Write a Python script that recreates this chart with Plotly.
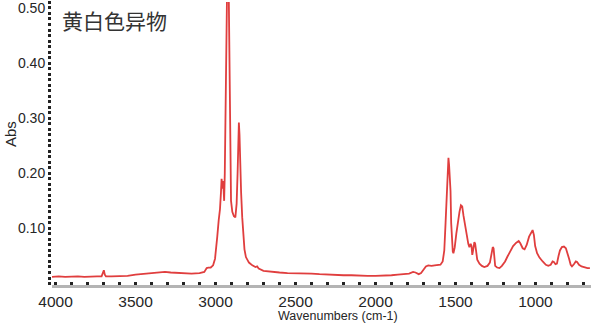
import plotly.graph_objects as go

# Wavenumbers (cm-1) and absorbance
wavenumbers = [
    4022, 3980, 3940, 3900, 3860, 3820, 3780, 3740, 3712, 3703, 3698, 3692, 3685,
    3650, 3600, 3550, 3500, 3450, 3400, 3350, 3316, 3280, 3240, 3200, 3150, 3100,
    3070, 3055, 3045, 3030, 3015, 3003, 2995, 2989, 2980, 2972, 2966, 2962, 2958,
    2955, 2952, 2949, 2946, 2942, 2937, 2932, 2928, 2924, 2920, 2915, 2910, 2907,
    2903, 2895, 2885, 2876, 2868, 2862, 2857, 2854, 2850, 2846, 2840, 2833, 2826,
    2819, 2810, 2800, 2791, 2770, 2750, 2740, 2730, 2700, 2650, 2600, 2550, 2500,
    2450, 2400, 2350, 2300, 2250, 2200, 2150, 2100, 2050, 2000, 1950, 1900, 1860,
    1820, 1790, 1765, 1750, 1730, 1715, 1700, 1685, 1670, 1650, 1630, 1610, 1594,
    1580, 1570, 1562, 1555, 1549, 1544, 1540, 1535, 1531, 1527, 1523, 1517, 1513,
    1505, 1495, 1485, 1475, 1466, 1458, 1450, 1440, 1430, 1420, 1413, 1405, 1400,
    1395, 1390, 1382, 1377, 1370, 1364, 1350, 1335, 1320, 1300, 1285, 1275, 1267,
    1262, 1257, 1252, 1240, 1225, 1210, 1190, 1175, 1160, 1140, 1120, 1105, 1095,
    1080, 1068, 1055, 1040, 1025, 1018, 1010, 1002, 990, 975, 955, 935, 920, 905,
    893, 885, 875, 866, 856, 847, 835, 822, 810, 800, 790, 780, 772, 760, 748, 740,
    728, 712, 700, 690, 675, 660,
]
absorbance = [
    0.012, 0.013, 0.012, 0.013, 0.013, 0.012, 0.013, 0.013, 0.013, 0.020, 0.024, 0.016, 0.013,
    0.013, 0.013, 0.014, 0.016, 0.017, 0.018, 0.019, 0.021, 0.020, 0.019, 0.018, 0.018, 0.019,
    0.021, 0.028, 0.029, 0.029, 0.033, 0.045, 0.065, 0.085, 0.115, 0.135, 0.165, 0.190, 0.178,
    0.172, 0.186, 0.170, 0.150, 0.200, 0.300, 0.450, 0.560, 0.620, 0.600, 0.450, 0.320, 0.200,
    0.150, 0.130, 0.122, 0.120, 0.145, 0.200, 0.270, 0.292, 0.270, 0.215, 0.165, 0.120, 0.085,
    0.062, 0.048, 0.042, 0.038, 0.033, 0.030, 0.031, 0.027, 0.023, 0.021, 0.020, 0.019, 0.019,
    0.018, 0.018, 0.017, 0.016, 0.016, 0.015, 0.015, 0.014, 0.014, 0.014, 0.014, 0.015, 0.016,
    0.017, 0.018, 0.021, 0.020, 0.017, 0.019, 0.025, 0.031, 0.033, 0.032, 0.033, 0.033, 0.034,
    0.040, 0.060, 0.110, 0.170, 0.215, 0.228, 0.215, 0.185, 0.168, 0.110, 0.075, 0.058, 0.055,
    0.065, 0.090, 0.113, 0.130, 0.142, 0.140, 0.123, 0.105, 0.088, 0.072, 0.066, 0.072, 0.068,
    0.052, 0.060, 0.075, 0.072, 0.050, 0.043, 0.036, 0.032, 0.030, 0.032, 0.038, 0.052, 0.066,
    0.064, 0.045, 0.032, 0.029, 0.028, 0.032, 0.040, 0.049, 0.058, 0.068, 0.074, 0.077, 0.073,
    0.064, 0.062, 0.070, 0.085, 0.095, 0.097, 0.088, 0.068, 0.055, 0.047, 0.040, 0.034, 0.032, 0.034,
    0.040, 0.039, 0.035, 0.036, 0.050, 0.060, 0.066, 0.067, 0.064, 0.056, 0.045, 0.034, 0.031, 0.035, 0.040, 0.039,
    0.034, 0.031, 0.030, 0.029, 0.028, 0.028,
]

x_ticks = [4000, 3500, 3000, 2500, 2000, 1500, 1000]
y_ticks = [0.10, 0.20, 0.30, 0.40, 0.50]
y_ticktext = ["0.10", "0.20", "0.30", "0.40", "0.50"]

sample_label = "黄白色异物"
x_title = "Wavenumbers (cm-1)"
y_title = "Abs"

fig = go.Figure()
fig.add_trace(go.Scatter(
    x=wavenumbers, y=absorbance, mode="lines",
    line=dict(color="rgb(224,62,62)", width=1.8),
    hoverinfo="skip", showlegend=False,
))

axis_font = dict(family="Liberation Sans, Arial, sans-serif", color="#262626")

fig.update_layout(
    width=591, height=324,
    margin=dict(l=52, r=0, t=0, b=39),
    paper_bgcolor="white", plot_bgcolor="white",
    showlegend=False,
    xaxis=dict(
        range=[4022, 653], tickvals=x_ticks, showgrid=False, zeroline=False,
        showline=True, linecolor="#b4b4b4", linewidth=3,
        ticks="inside", ticklen=3, tickwidth=2.5, tickcolor="#222",
        minor=dict(dtick=100, tick0=0, ticks="inside", ticklen=3, tickwidth=2.5, tickcolor="#222"),
        tickfont=dict(size=15.5, **axis_font),
        ticklabelstandoff=0,
    ),
    yaxis=dict(
        range=[-0.0027, 0.5108], tickvals=y_ticks, ticktext=y_ticktext,
        showgrid=False, zeroline=False, showline=False,
        ticks="outside", ticklen=3, tickwidth=2.5, tickcolor="#222",
        minor=dict(dtick=0.01, tick0=0, ticks="outside", ticklen=3, tickwidth=2.5, tickcolor="#222"),
        tickfont=dict(size=14, **axis_font),
        ticklabeloverflow="allow",
    ),
    annotations=[
        dict(text=sample_label, xref="paper", yref="paper", x=0.015, y=0.937,
             xanchor="left", yanchor="middle", showarrow=False,
             font=dict(family="Noto Sans CJK SC", size=21, color="#333")),
        dict(text=y_title, xref="paper", yref="paper", x=-0.078, y=0.533,
             xanchor="center", yanchor="middle", textangle=-90, showarrow=False,
             font=dict(size=15, **axis_font)),
        dict(text=x_title, xref="paper", yref="paper", x=0.531, y=-39 / 285,
             xanchor="center", yanchor="bottom", showarrow=False,
             borderpad=0,
             font=dict(size=12.5, **axis_font)),
    ],
)

fig.write_html("out.html")
